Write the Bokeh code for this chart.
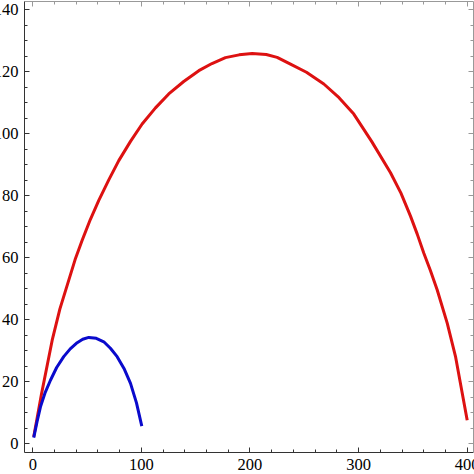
from bokeh.plotting import figure
from bokeh.models import Range1d, LinearAxis, SingleIntervalTicker, CustomLabelingPolicy
from bokeh.embed import file_html
from bokeh.resources import INLINE

# Red trajectory
red_x = [0.9, 8.0, 17.9, 25.0, 33.1, 39.0, 45.5, 53.0, 60.8, 70.0, 79.2, 90.0,
         100.7, 113.0, 125.2, 139.0, 152.9, 165.0, 177.4, 190.0, 202.0, 215.0,
         225.0, 237.3, 252.0, 268.0, 282.0, 295.6, 312.0, 329.4, 339.0, 347.8,
         354.0, 360.0, 366.2, 372.4, 381.6, 389.2, 395.4, 400.0]
red_y = [2.3, 16.0, 33.4, 43.5, 52.7, 59.4, 65.6, 72.3, 78.5, 85.1, 91.3, 97.5,
         103.1, 108.3, 112.8, 116.8, 120.3, 122.6, 124.5, 125.4, 125.8, 125.5,
         124.6, 122.4, 119.8, 116.0, 111.6, 106.3, 97.5, 87.4, 80.8, 73.4,
         67.6, 61.5, 55.8, 49.6, 38.9, 28.2, 16.4, 7.6]

# Blue trajectory
blue_x = [0.9, 4.0, 7.1, 11.5, 16.3, 22.0, 28.5, 34.5, 40.9, 46.0, 51.6, 58.5,
          65.4, 71.5, 77.7, 84.0, 90.0, 95.5, 100.4]
blue_y = [2.0, 7.2, 11.9, 16.6, 20.5, 24.6, 28.1, 30.6, 32.6, 33.7, 34.3, 34.0,
          32.9, 30.8, 28.1, 24.3, 19.5, 13.2, 5.7]

x_major = 100
x_minor_count = 5
y_major = 20
y_minor_count = 4

FONT = "Liberation Serif"

p = figure(frame_width=449, frame_height=451, output_backend="svg", toolbar_location=None,
           x_range=Range1d(-7.6, 405.8), y_range=Range1d(-2.8, 142.6),
           min_border_left=40, min_border_right=0, min_border_top=8, min_border_bottom=0,
           x_axis_location=None, y_axis_location=None)
p.grid.visible = False
p.outline_line_color = None
p.background_fill_color = "white"
p.border_fill_color = "white"


def style_axis(ax, standoff, line_color):
    ax.axis_line_color = line_color
    ax.axis_line_width = 1
    ax.major_tick_line_color = line_color
    ax.minor_tick_line_color = line_color
    ax.major_tick_in = 5
    ax.major_tick_out = 0
    ax.minor_tick_in = 3
    ax.minor_tick_out = 0
    if standoff is not None:
        ax.major_label_text_font = FONT
        ax.major_label_text_font_size = "16.5px"
        ax.major_label_text_color = "black"
        ax.major_label_standoff = standoff
    else:
        ax.major_label_policy = CustomLabelingPolicy(code="return []")
        ax.major_label_standoff = 0


bottom = LinearAxis(ticker=SingleIntervalTicker(interval=x_major, num_minor_ticks=x_minor_count))
left = LinearAxis(ticker=SingleIntervalTicker(interval=y_major, num_minor_ticks=y_minor_count))
top = LinearAxis(ticker=SingleIntervalTicker(interval=x_major, num_minor_ticks=x_minor_count))
right = LinearAxis(ticker=SingleIntervalTicker(interval=y_major, num_minor_ticks=y_minor_count))
style_axis(bottom, 6, "#333333")
style_axis(left, 6, "#333333")
style_axis(top, None, "#999999")
style_axis(right, None, "#999999")
p.add_layout(bottom, "below")
p.add_layout(left, "left")
p.add_layout(top, "above")
p.add_layout(right, "right")

p.line(red_x, red_y, line_color="#dd1111", line_width=3, line_join="round")
p.line(blue_x, blue_y, line_color="#0a0acc", line_width=3, line_join="round")

p.styles = {"margin-left": "-16px", "margin-top": "-10px"}

open("out.html", "w").write(file_html(p, INLINE))
